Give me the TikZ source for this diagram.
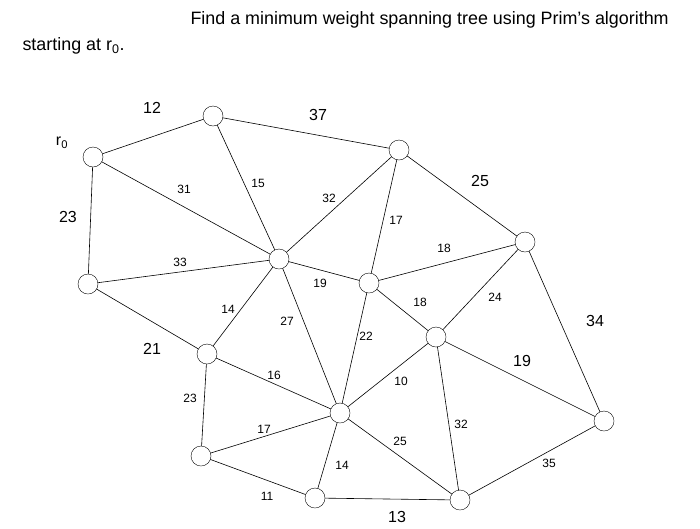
\documentclass[tikz,border=0pt]{standalone}
\usepackage{fontspec}
\setmainfont{Liberation Sans}
\begin{document}
\begin{tikzpicture}[x=1pt,y=-1pt,
  v/.style={circle,draw,fill=white,minimum size=20pt,inner sep=0pt},
  sl/.style={font=\fontsize{12}{14}\selectfont,inner sep=1pt},
  bl/.style={font=\fontsize{16}{18}\selectfont,inner sep=1pt},
  ed/.style={draw,line width=0.6pt}]
\useasboundingbox (0,0) rectangle (700,528);
\node[font=\fontsize{17.9}{20}\selectfont,anchor=west] (t1) at (187,20) {Find a minimum weight spanning tree using Prim’s algorithm};
\node[font=\fontsize{17.9}{20}\selectfont,anchor=west] (t2) at (19,46) {starting at r\textsubscript{0}.};
\node[bl] (r0) at (62,143) {r\textsubscript{0}};
\coordinate (A) at (93,157);
\coordinate (B) at (213,116);
\coordinate (C) at (399,150);
\coordinate (D) at (525,242);
\coordinate (E) at (279,259);
\coordinate (F) at (369,283);
\coordinate (G) at (88,284);
\coordinate (H) at (436,337);
\coordinate (I) at (207,354);
\coordinate (J) at (340,413);
\coordinate (K) at (604,421);
\coordinate (L) at (201,456);
\coordinate (M) at (315,498);
\coordinate (N) at (460,500);
\foreach \a/\b in {A/B,B/C,C/D,A/G,A/E,B/E,C/E,C/F,G/E,E/F,F/D,F/H,D/H,D/K,G/I,E/I,E/J,F/J,H/J,H/K,I/J,I/L,L/J,J/N,H/N,J/M,L/M,M/N,N/K}
  \draw[ed] (\a) -- (\b);
\foreach \n in {A,B,C,D,E,F,G,H,I,J,K,L,M,N}
  \node[v] (n\n) at (\n) {};
\node[bl] (l1) at (152,108) {12};
\node[bl] (l2) at (318,115) {37};
\node[bl] (l3) at (480,181) {25};
\node[bl] (l4) at (68,217) {23};
\node[sl] (l5) at (184,189) {31};
\node[sl] (l6) at (258,183) {15};
\node[sl] (l7) at (329,198) {32};
\node[sl] (l8) at (396,220) {17};
\node[sl] (l9) at (180,262) {33};
\node[sl] (l10) at (320,283) {19};
\node[sl] (l11) at (444,248) {18};
\node[sl] (l12) at (420,302) {18};
\node[sl] (l13) at (495,297) {24};
\node[bl] (l14) at (595,321) {34};
\node[bl] (l15) at (152,349) {21};
\node[sl] (l16) at (228,309) {14};
\node[sl] (l17) at (287,321) {27};
\node[sl] (l18) at (366,336) {22};
\node[sl] (l19) at (401,381) {10};
\node[bl] (l20) at (522,361) {19};
\node[sl] (l21) at (274,375) {16};
\node[sl] (l22) at (190,398) {23};
\node[sl] (l23) at (264,429) {17};
\node[sl] (l24) at (400,441) {25};
\node[sl] (l25) at (461,424) {32};
\node[sl,fill=white] (l26) at (342,465) {14};
\node[sl] (l27) at (267,496) {11};
\node[bl] (l28) at (397,517) {13};
\node[sl] (l29) at (549,463) {35};
\end{tikzpicture}
\end{document}
